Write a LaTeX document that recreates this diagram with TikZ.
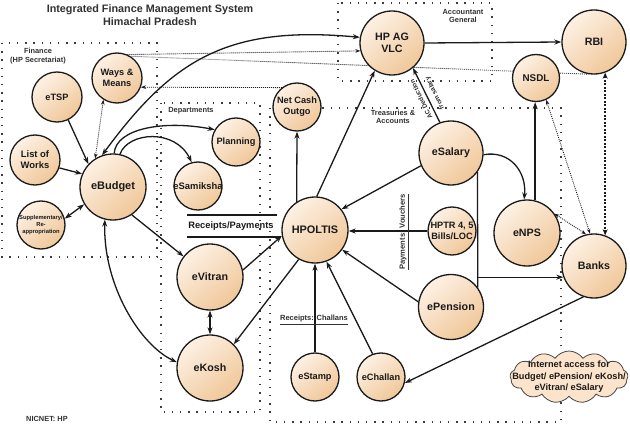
\documentclass[tikz,border=0pt]{standalone}
\usepackage{fontspec}
\setmainfont{Liberation Sans}
\usetikzlibrary{arrows.meta,shapes.symbols,backgrounds}
\definecolor{peachL}{HTML}{FDF1E4}
\definecolor{peachD}{HTML}{F0C799}
\definecolor{ink}{HTML}{1A1A1A}
\definecolor{cloudfill}{HTML}{FBE4CB}
\tikzset{
 nd/.style={circle, draw=ink, line width=1.3pt, inner sep=0pt, align=center, text=ink,
   top color=peachL, bottom color=peachD, shading angle=40},
 bigfont/.style={font=\bfseries\fontsize{10.7}{12.4}\selectfont},
 midfont/.style={font=\bfseries\fontsize{9.2}{10.8}\selectfont},
 arr/.style={draw=ink, line width=1.3pt, -{Stealth[length=7pt,width=5pt]}},
 darr/.style={draw=ink, line width=1.3pt, {Stealth[length=7pt,width=5pt]}-{Stealth[length=7pt,width=5pt]}},
 plainl/.style={draw=ink, line width=1.3pt},
 dotl/.style={draw=ink, line width=0.9pt, dash pattern=on 0.9pt off 1.1pt},
 dotarr/.style={dotl, -{Stealth[length=5pt,width=3.6pt]}},
 ddotarr/.style={dotl, {Stealth[length=5pt,width=3.6pt]}-{Stealth[length=5pt,width=3.6pt]}},
 bdot/.style={draw=ink, line width=2pt, dash pattern=on 2pt off 1.5pt, {Stealth[length=6pt,width=5pt]}-{Stealth[length=6pt,width=5pt]}},
 boxl/.style={draw=ink!85, line width=1.4pt, dash pattern=on 1.4pt off 6.8pt},
 lbl/.style={font=\bfseries\fontsize{7.4}{8.6}\selectfont, text=ink!90, align=center, inner sep=0pt},
 rotl/.style={font=\bfseries\fontsize{6.5}{7.5}\selectfont, text=ink!90, inner sep=0pt, rotate=116},
}
\begin{document}
\begin{tikzpicture}[x=1pt,y=-1pt]
\useasboundingbox (0,0) rectangle (630,428);
% nodes
\node[nd, bigfont, minimum size=64pt] (vlc) at (392,43) {HP AG\\VLC};
\node[nd, bigfont, minimum size=64pt] (rbi) at (594,42) {RBI};
\node[nd, font=\bfseries\fontsize{9.8}{11}\selectfont, minimum size=47pt] (nsdl) at (536,78) {NSDL};
\node[nd, bigfont, minimum size=64pt] (esal) at (451,153) {eSalary};
\node[nd, bigfont, minimum size=66pt] (enps) at (527,233) {eNPS};
\node[nd, bigfont, minimum size=64pt] (banks) at (594,266) {Banks};
\node[nd, midfont, minimum size=48pt] (hptr) at (452,231) {\makebox[0pt][c]{HPTR 4, 5}\\\makebox[0pt][c]{Bills/LOC}};
\node[nd, bigfont, minimum size=65pt] (epen) at (451,307) {ePension};
\node[nd, midfont, minimum size=48pt] (echal) at (381,377) {eChallan};
\node[nd, midfont, minimum size=48pt] (estamp) at (315,377) {eStamp};
\node[nd, font=\bfseries\fontsize{10.9}{13}\selectfont, minimum size=66pt] (hpoltis) at (315,230) {HPOLTIS};
\node[nd, midfont, minimum size=48pt] (ncash) at (297,107) {Net Cash\\Outgo};
\node[nd, bigfont, minimum size=66pt] (evit) at (210,277) {eVitran};
\node[nd, bigfont, minimum size=66pt] (ekosh) at (210,368) {eKosh};
\node[nd, font=\bfseries\fontsize{11}{13}\selectfont, minimum size=66pt] (ebud) at (113,187) {eBudget};
\node[nd, font=\bfseries\fontsize{9.4}{11}\selectfont, minimum size=48pt] (esam) at (198,186) {\makebox[0pt][c]{eSamiksha}};
\node[nd, midfont, minimum size=48pt] (plan) at (236,142) {Planning};
\node[nd, midfont, minimum size=50pt] (ways) at (117,78) {Ways \&\\Means};
\node[nd, midfont, minimum size=50pt] (etsp) at (57,97) {eTSP};
\node[nd, font=\bfseries\fontsize{9.4}{11}\selectfont, minimum size=50pt] (low) at (35,160) {List of\\Works};
\node[nd, font=\bfseries\fontsize{5.8}{6.8}\selectfont, minimum size=48pt] (supp) at (41,225) {\makebox[0pt][c]{Supplementary/}\\Re-\\appropriation};
\node[cloud, cloud puffs=13, cloud puff arc=110, aspect=2.3, draw=ink!80, line width=0.8pt, fill=cloudfill,
  minimum width=118pt, minimum height=52pt, inner sep=0pt,
  label={[font=\bfseries\fontsize{9.2}{11.5}\selectfont, align=center, text=ink]center:Internet access for\\Budget/ ePension/ eKosh/\\eVitran/ eSalary}] (cloud) at (569,377) {};
% labels
\node[font=\bfseries\fontsize{10.8}{13}\selectfont, align=center, text=ink!90] (title) at (150,15) {Integrated Finance Management System\\Himachal Pradesh};
\node[lbl] (tfin) at (38,56) {Finance\\(HP Secretariat)};
\node[lbl] (tdep) at (191,111) {Departments};
\node[lbl] (ttre) at (393,117) {Treasuries \&\\Accounts};
\node[lbl] (tag) at (463,16) {Accountant\\General};
\node[lbl] (tnic) at (47,419) {NICNET: HP};
\node[font=\bfseries\fontsize{9.3}{11}\selectfont, text=ink, inner sep=0pt] (rp) at (231,226) {Receipts/Payments};
\node[font=\bfseries\fontsize{7.5}{9}\selectfont, text=ink!90, inner sep=0pt] (rc) at (314,320) {\underline{Receipts: Challans}};
\node[font=\bfseries\fontsize{7.6}{9}\selectfont, text=ink!90, inner sep=0pt, rotate=90] (pv) at (404,232) {\underline{Payments: Vouchers}};
\node[rotl] (acd) at (421,99.5) {AC Deduction};
\node[rotl] (fsal) at (435,93) {from salary};
\begin{scope}[on background layer]
\fill[white] (0,0) rectangle (630,428);
% boxes
\draw[boxl] (2,43) rectangle (157,257);
\draw[boxl] (161,103) rectangle (260,412);
\draw[boxl] (270,108) rectangle (561,422);
\draw[boxl] (338,3) rectangle (492,81);
% data store lines
\draw[plainl] (187,215) -- (277,215);
\draw[plainl] (187,237) -- (281,237);
% dotted connectors
\draw[dotarr] (ways.66) -- (vlc.194);
\draw[dotl] (ways.58) -- (rbi.-100);
\draw[dotarr] (ncash.128) -- (ways.-21);
\draw[ddotarr] (ways.-122) -- (ebud.122);
\draw[bdot] (rbi.-70) -- (banks.70);
\draw[ddotarr] (nsdl.-65) -- (banks.97);
\draw[ddotarr] (enps.35) -- (banks.104);
% solid connectors
\draw[darr] (ebud.109) .. controls (172,60) and (227,25) .. (vlc.170);
\draw[arr] (etsp.-64) -- (ebud.137);
\draw[arr] (low.-18) -- (ebud.157);
\draw[darr] (supp.15) -- (ebud.-149);
\draw[arr] (ebud.88) .. controls (116,128) and (165,120) .. (plan.150);
\draw[arr] (ebud.78) .. controls (128,132) and (175,128) .. (esam.105);
\draw[arr] (ebud.-56) -- (evit.142);
\draw[darr] (ebud.-104) .. controls (103,285) and (140,345) .. (ekosh.170);
\draw[darr] (evit.south) -- (ekosh.north);
\draw[arr] (evit.12) -- (hpoltis.190);
\draw[arr] (hpoltis.-119) -- (ekosh.45);
\draw[arr] (hpoltis.123) -- (ncash.south);
\draw[arr] (hpoltis.87) -- (vlc.-122);
\draw[arr] (esal.203) -- (hpoltis.38);
\draw[arr] (hptr.west) -- (hptr.west -| hpoltis.east);
\draw[arr] (epen.171) -- (hpoltis.-36);
\draw[arr] (estamp.north) -- (hpoltis.south);
\draw[arr] (echal.110) -- (hpoltis.-70);
\draw[arr] (esal.110) -- (vlc.-50);
\draw[arr] (esal.-3) .. controls (510,150) and (527,172) .. (enps.95);
\draw[arr] (enps.76) -- (enps.76 |- nsdl.south);
\draw[plainl] (esal.-36) -- (epen.36);
\coordinate (jn) at (esal.-36 |- banks.200);
\draw[arr] (jn) -- (banks.200);
\draw[arr] (banks.-109) -- (echal.-14);
\draw[arr] (vlc.east) -- (rbi.west);
\end{scope}
\end{tikzpicture}
\end{document}
